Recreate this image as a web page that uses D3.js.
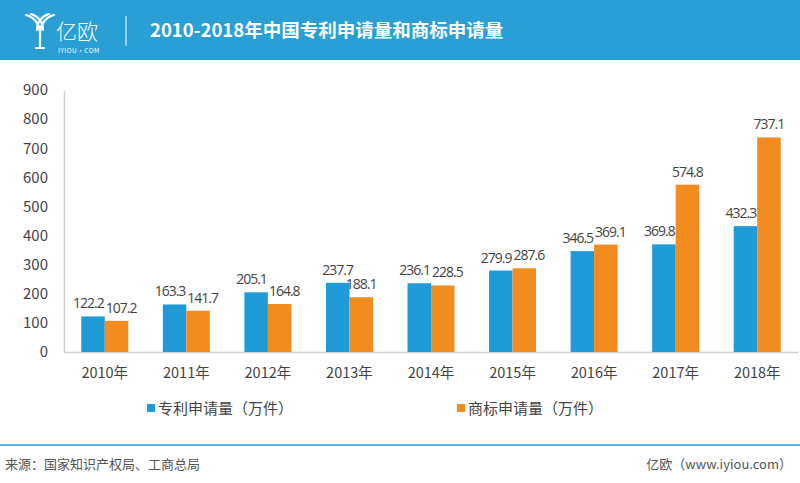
<!DOCTYPE html>
<html><head><meta charset="utf-8">
<script src="https://cdn.jsdelivr.net/npm/d3@7"></script>
<style>html,body{margin:0;padding:0;background:#fff;}svg{display:block;}</style>
</head><body>
<svg id="c" width="800" height="483"></svg>
<script>
const categories = ["2010年","2011年","2012年","2013年","2014年","2015年","2016年","2017年","2018年"];
const patents = [122.2,163.3,205.1,237.7,236.1,279.9,346.5,369.8,432.3];
const trademarks = [107.2,141.7,164.8,188.1,228.5,287.6,369.1,574.8,737.1];
const yTicks = [0,100,200,300,400,500,600,700,800,900];
const seriesNames = ["专利申请量（万件）","商标申请量（万件）"];
const colors = ["#1f9bd7","#f28c1f"];

const svg = d3.select("#c");
const font = "'Noto Sans CJK SC','Noto Sans',sans-serif";
const numFont = "'Open Sans','Noto Sans',sans-serif";

// header
svg.append("rect").attr("x",0).attr("y",0).attr("width",800).attr("height",60).attr("fill","#2a9fd6");
// logo
const lg = svg.append("g").attr("fill","none").attr("stroke","#fff").attr("stroke-width",2.2).attr("stroke-linecap","round");
lg.append("path").attr("d","M26,15 C34,17 40,24 40,34 L40,48");
lg.append("path").attr("d","M31,14 C38,16 43,22 43,30");
lg.append("path").attr("d","M54,15 C46,17 40,24 40,34");
lg.append("path").attr("d","M49,14 C42,16 37,22 37,30");
lg.append("path").attr("d","M36,48 L44,48");
svg.append("text").attr("x",56).attr("y",39).attr("fill","#fff").attr("font-family",font).attr("font-size",21).attr("font-weight",300).text("亿欧");
svg.append("text").attr("x",58).attr("y",53).attr("fill","#fff").attr("font-family",font).attr("font-size",6.5).attr("letter-spacing",0.5).text("IYIOU·COM");
svg.append("line").attr("x1",126).attr("x2",126).attr("y1",16).attr("y2",46).attr("stroke","#fff").attr("stroke-width",1.2).attr("opacity",0.85);
svg.append("text").attr("x",150).attr("y",37).attr("fill","#fff").attr("font-family",font).attr("font-size",18.5).attr("font-weight",700).text("2010-2018年中国专利申请量和商标申请量");

// scales
const x = d3.scaleBand().domain(categories).range([64,798]).paddingInner(0).paddingOuter(0);
const y = d3.scaleLinear().domain([0,900]).range([352,90]);
const bw = 23.5;
const barX = (i,s) => x(categories[i]) + x.bandwidth()/2 - bw + s*bw;

// y axis
const ya = svg.append("g").attr("transform","translate(64,0)")
  .call(d3.axisLeft(y).tickValues(yTicks).tickSize(0).tickPadding(16));
ya.select(".domain").attr("stroke","#d0d0d0").attr("stroke-width",1.5);
ya.selectAll("text").attr("font-family",font).attr("font-size",15).attr("fill","#444");

// x axis
const xa = svg.append("g").attr("transform","translate(0,352)")
  .call(d3.axisBottom(x).tickSize(0).tickPadding(16));
xa.select(".domain").attr("stroke","#d0d0d0").attr("stroke-width",1.5);
xa.selectAll("text").attr("font-family",font).attr("font-size",14.5).attr("fill","#444");

const data = [patents, trademarks];
data.forEach((vals, s) => {
  svg.append("g").selectAll("rect").data(vals).join("rect")
    .attr("x",(d,i)=>barX(i,s))
    .attr("y",d=>y(d)).attr("width",bw).attr("height",d=>y(0)-y(d))
    .attr("fill",colors[s]);
});
const labelSel = [];
data.forEach((vals, s) => {
  labelSel.push(svg.append("g").selectAll("text").data(vals).join("text")
    .attr("x",(d,i)=>barX(i,s) + bw/2)
    .attr("y",d=>y(d)-8)
    .attr("text-anchor","middle").attr("font-family",numFont).attr("font-size",14)
    .attr("letter-spacing",-1).attr("fill","#444")
    .text(d=>d.toFixed(1)));
});
// keep labels from colliding with each other or with the neighbouring bar
categories.forEach((c,i)=>{
  const a = labelSel[0].nodes()[i], b = labelSel[1].nodes()[i];
  const wa = a.getComputedTextLength(), wb = b.getComputedTextLength();
  let xa0 = +a.getAttribute("x"), xb0 = +b.getAttribute("x");
  const ta = y(patents[i]) - 8, tb = y(trademarks[i]) - 8;
  if (tb + 10 < ta + 2) {
    // orange bar top is above blue label: keep blue label left of the orange bar
    const maxRight = barX(i,1) - 1;
    if (xa0 + wa/2 > maxRight) xa0 = maxRight - wa/2;
  } else if (Math.abs(ta - tb) < 14) {
    const overlap = (wa/2 + wb/2 + 2) - (xb0 - xa0);
    if (overlap > 0) { xa0 -= overlap/2; xb0 += overlap/2; }
  }
  a.setAttribute("x", xa0); b.setAttribute("x", xb0);
});

// legend
const legX = [147,457];
seriesNames.forEach((n,s)=>{
  svg.append("rect").attr("x",legX[s]).attr("y",404).attr("width",8).attr("height",8).attr("fill",colors[s]);
  svg.append("text").attr("x",legX[s]+11).attr("y",414).attr("font-family",font).attr("font-size",15).attr("fill","#444").text(n);
});

// footer
svg.append("rect").attr("x",0).attr("y",444).attr("width",800).attr("height",2).attr("fill","#5fb8e0");
svg.append("text").attr("x",5).attr("y",469).attr("font-family",font).attr("font-size",13).attr("fill","#555").text("来源：国家知识产权局、工商总局");
svg.append("text").attr("x",792).attr("y",469).attr("text-anchor","end").attr("font-family",font).attr("font-size",13).attr("fill","#555").text("亿欧（www.iyiou.com）");
</script>
</body></html>
